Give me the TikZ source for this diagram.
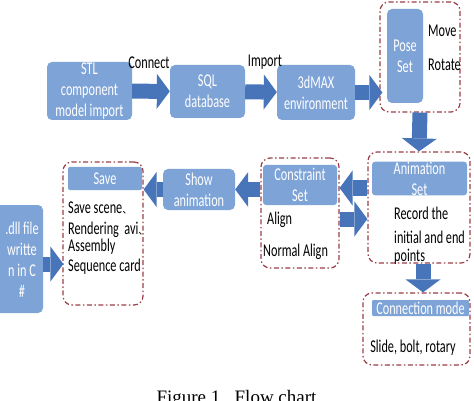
\documentclass[tikz,border=0pt]{standalone}
\usepackage{fontspec}
\setmainfont{Liberation Serif}
\newfontfamily\boxfnt[FakeStretch=0.68]{Carlito}
\newfontfamily\cjkfnt{Noto Sans CJK SC}
\usetikzlibrary{arrows.meta}
\definecolor{boxblue}{RGB}{126,163,215}
\definecolor{arrblue}{RGB}{72,117,185}
\definecolor{dashred}{RGB}{155,62,72}
\begin{document}
\begin{tikzpicture}[x=1pt,y=-1pt,
 bluebox/.style={fill=boxblue, rounded corners=5pt, text=white, font=\boxfnt\fontsize{18}{21}\selectfont, align=center, inner sep=0pt},
 dashbox/.style={draw=dashred, line width=1.2pt, dash pattern=on 5pt off 2.5pt on 1.5pt off 2.5pt, rounded corners=9pt, inner sep=0pt},
 lbl/.style={font=\boxfnt\fontsize{18}{21}\selectfont, text=black, inner sep=0pt, align=left},
 barrow/.style={draw=arrblue, line width=15pt, -{Triangle[length=13pt,width=35pt,line width=0pt]}}
]
\useasboundingbox (0,0) rectangle (474,401);
\clip (0,0) rectangle (474,401);
\fill[white] (0,0) rectangle (474,401);

% dashed groups
\node[dashbox, minimum width=80pt, minimum height=110pt] (pose) at (420,57) {};
\node[dashbox, minimum width=102pt, minimum height=111pt] (anim) at (419,207.5) {};
\node[dashbox, minimum width=78pt, minimum height=110pt] (cons) at (300,213) {};
\node[dashbox, minimum width=80pt, minimum height=143pt] (save) at (103,233.5) {};
\node[dashbox, minimum width=107pt, minimum height=72pt] (conn) at (416.5,329) {};

% blue boxes
\node[bluebox, minimum width=85pt, minimum height=58pt] (stl) at (89.5,91) {STL\\component\\model import};
\node[bluebox, minimum width=75pt, minimum height=53pt] (sql) at (207.5,91.5) {SQL\\database};
\node[bluebox, minimum width=78pt, minimum height=55pt] (mx) at (316,92.5) {3dMAX\\environment};
\node[bluebox, minimum width=36pt, minimum height=94pt] (posein) at (405,56) {Pose\\Set};
\node[bluebox, rounded corners=3pt, minimum width=95pt, minimum height=33pt] (animin) at (419.5,178.5) {Animation\\Set};
\node[bluebox, rounded corners=3pt, minimum width=74pt, minimum height=40pt] (consin) at (300,185) {Constraint\\Set};
\node[bluebox, minimum width=72pt, minimum height=41pt] (show) at (199,189.5) {Show\\animation};
\node[bluebox, rounded corners=2pt, minimum width=74pt, minimum height=23pt] (savein) at (105,178.5) {Save};
\node[bluebox, rounded corners=1pt, minimum width=97pt, minimum height=16pt] (connin) at (420.5,308) {Connection mode};
\node[bluebox, minimum width=49pt, minimum height=108pt] (dll) at (18.5,259) {};
\node[bluebox, fill=none] (dlltext) at (22,260) {.dll file\\writte\\n in C\\\#};

% block arrows
\draw[barrow] (stl) -- (sql);
\draw[barrow] (sql) -- (mx);
\draw[barrow] (mx.east) -- ([xshift=3pt]mx.east -| pose.west);
\draw[barrow] (pose.south) -- (anim.north);
\draw[barrow] ([yshift=19.5pt]anim.west) -- ([yshift=19.5pt]anim.west -| cons.east);
\draw[barrow] ([yshift=-6pt]cons.east) -- ([yshift=-6pt]cons.east -| anim.west);
\draw[barrow] (show.east -| cons.west) -- (show.east);
\draw[barrow] (show.west) -- (show.west -| save.east);
\draw[barrow] ([yshift=-5pt]dll.east) -- ([yshift=-5pt,xshift=1pt]dll.east -| save.west);
\draw[barrow] ([xshift=4pt]anim.south) -- ([xshift=4pt]anim.south |- conn.north);

% labels
\node[lbl] (lconnect) at (149,63) {Connect};
\node[lbl] (limport) at (265,62) {Import};
\node[lbl, anchor=west] (lmove) at (428,31) {Move};
\node[lbl, anchor=west] (lrotate) at (428,65) {Rotate};
\node[lbl, anchor=west] (lrec1) at (394,213) {Record the};
\node[lbl, anchor=west] (lrec2) at (394,237) {initial and end};
\node[lbl, anchor=west] (lrec3) at (394,257) {points};
\node[lbl, anchor=west] (lalign) at (267,220) {Align};
\node[lbl, anchor=west] (lnalign) at (263,252) {Normal Align};
\node[lbl, anchor=west] (ls1) at (68,208) {Save scene{\cjkfnt\fontsize{10}{10}\selectfont 、}};
\node[lbl, anchor=west] (ls2) at (68,230) {Rendering\ \ avi{\cjkfnt\fontsize{10}{10}\selectfont 、}};
\node[lbl, anchor=west] (ls3) at (68,247) {Assembly};
\node[lbl, anchor=west] (ls4) at (68,267) {Sequence card};
\node[lbl] (lslide) at (413,348) {Slide, bolt, rotary};

% caption
\node[font=\fontsize{19}{22}\selectfont, anchor=base, inner sep=0pt] (cap) at (236.5,403.5) {Figure 1.\ \ Flow chart};
\end{tikzpicture}
\end{document}
